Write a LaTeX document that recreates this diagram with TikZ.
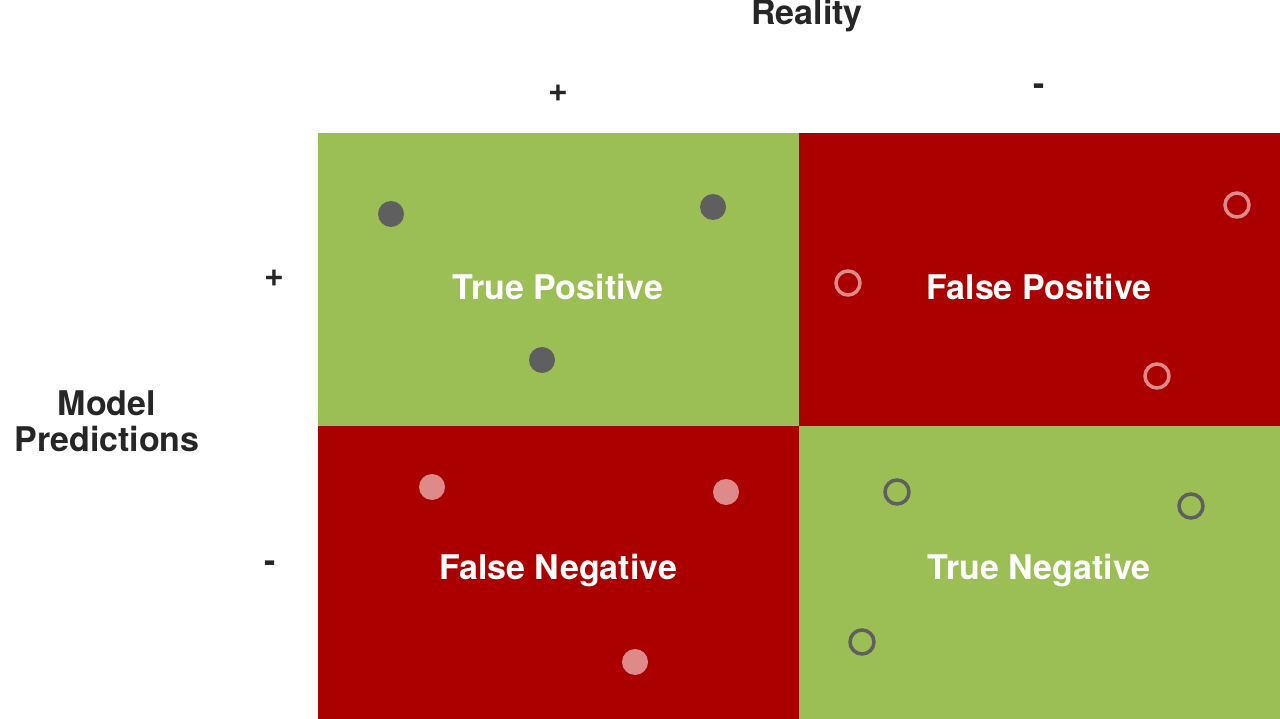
\documentclass[tikz,border=0pt]{standalone}
\usepackage{fontspec}
\setmainfont{TeX Gyre Heros}
\definecolor{cgreen}{HTML}{9BBE55}
\definecolor{cred}{HTML}{AA0000}
\definecolor{cdot}{HTML}{5F5F5F}
\definecolor{cpink}{HTML}{DE8A8A}
\begin{document}
\begin{tikzpicture}[x=1pt,y=-1pt,
  lab/.style={font=\bfseries\fontsize{34}{40}\selectfont,text=white},
  hdr/.style={font=\bfseries\fontsize{34}{40}\selectfont,text=black!85,align=center},
  fdot/.style={circle,fill=#1,minimum size=26pt,inner sep=0pt},
  odot/.style={circle,draw=#1,line width=3.5pt,minimum size=24pt,inner sep=0pt}]
\useasboundingbox (0,0) rectangle (1280,719);
\fill[cgreen] (318,133) rectangle (799,426);
\fill[cred] (799,133) rectangle (1280,426);
\fill[cred] (318,426) rectangle (799,719);
\fill[cgreen] (799,426) rectangle (1280,719);
\node[lab] (tp) at (558,287) {True Positive};
\node[lab] (fp) at (1039,287) {False Positive};
\node[lab] (fn) at (558,571) {False Negative};
\node[lab] (tn) at (1039,571) {True Negative};
\node[hdr] (real) at (807,16) {Reality};
\node[hdr] (rp) at (558,93) {+};
\node[hdr] (rm) at (1039,90) {-};
\node[hdr] (mp) at (274,278) {+};
\node[hdr] (mm) at (270,567) {-};
\node[hdr] (model) at (107,421) {Model\\[-4pt]Predictions};
\node[fdot=cdot] (a1) at (391,214) {};
\node[fdot=cdot] (a2) at (713,207) {};
\node[fdot=cdot] (a3) at (542,360) {};
\node[odot=cpink] (b1) at (1237,205) {};
\node[odot=cpink] (b2) at (848,283) {};
\node[odot=cpink] (b3) at (1157,376) {};
\node[fdot=cpink] (c1) at (432,487) {};
\node[fdot=cpink] (c2) at (726,492) {};
\node[fdot=cpink] (c3) at (635,662) {};
\node[odot=cdot] (d1) at (897,492) {};
\node[odot=cdot] (d2) at (1191,506) {};
\node[odot=cdot] (d3) at (862,642) {};
\end{tikzpicture}
\end{document}
